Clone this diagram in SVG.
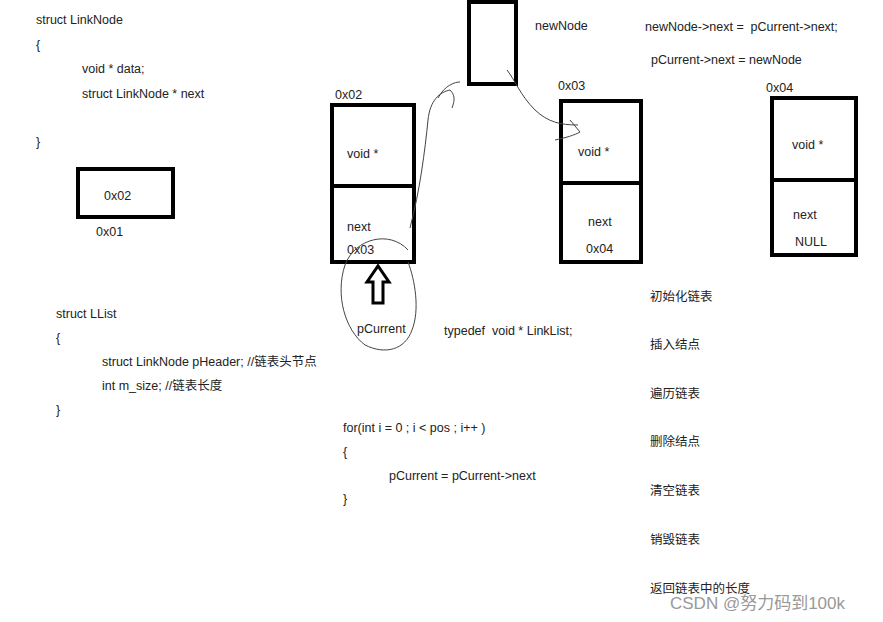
<svg xmlns="http://www.w3.org/2000/svg" width="883" height="622" viewBox="0 0 883 622">
<style>
text{font-family:"Liberation Sans","Noto Sans CJK SC",sans-serif;font-size:12.5px;fill:#222;white-space:pre}
.b{fill:none;stroke:#000;stroke-width:4}
.h{fill:none;stroke:#444;stroke-width:1}
</style>
<rect width="883" height="622" fill="#fff"/>
<g id="code1">
<text x="36" y="24">struct LinkNode</text><text x="36" y="49">{</text>
<text x="82" y="73">void * data;</text><text x="82" y="98">struct LinkNode * next</text>
<text x="36" y="146">}</text></g>
<g id="head"><rect class="b" x="78" y="169" width="95" height="48"/><text x="104" y="200">0x02</text><text x="96" y="236">0x01</text></g>
<g id="code2"><text x="56" y="318">struct LList</text><text x="56" y="342">{</text>
<text x="102" y="366">struct LinkNode pHeader; //链表头节点</text><text x="102" y="390">int m_size; //链表长度</text><text x="56" y="414">}</text></g>
<g id="n02"><text x="335" y="99">0x02</text><rect class="b" x="332" y="105" width="82" height="157"/><line class="b" x1="332" y1="186" x2="414" y2="186"/>
<text x="347" y="158">void *</text><text x="347" y="231">next</text><text x="347" y="254">0x03</text></g>
<g id="newNode"><rect class="b" x="469" y="2" width="47" height="82"/><text x="535" y="30">newNode</text></g>
<g id="n03"><text x="558" y="90">0x03</text><rect class="b" x="561" y="101" width="80" height="161"/><line class="b" x1="561" y1="183" x2="641" y2="183"/>
<text x="578" y="156">void *</text><text x="588" y="226">next</text><text x="586" y="253">0x04</text></g>
<g id="n04"><text x="766" y="92">0x04</text><rect class="b" x="772" y="98" width="84" height="157"/><line class="b" x1="772" y1="180" x2="856" y2="180"/>
<text x="792" y="149">void *</text><text x="793" y="219">next</text><text x="795" y="246">NULL</text></g>
<g id="pCurrent"><path d="M373,303 V282 H367 L378,266 L389,282 H383 V303 Z" fill="#fff" stroke="#000" stroke-width="3"/>
<text x="357" y="333">pCurrent</text></g>
<g id="texts"><text x="645" y="31">newNode-&gt;next =  pCurrent-&gt;next;</text><text x="651" y="64">pCurrent-&gt;next = newNode</text>
<text x="444" y="335">typedef  void * LinkList;</text>
<text x="343" y="432">for(int i = 0 ; i &lt; pos ; i++ )</text><text x="343" y="456">{</text>
<text x="389" y="480">pCurrent = pCurrent-&gt;next</text><text x="343" y="503">}</text>
<g style="font-size:11px"><text x="650" y="301">初始化链表</text><text x="650" y="349">插入结点</text><text x="650" y="398">遍历链表</text>
<text x="650" y="446">删除结点</text><text x="650" y="495">清空链表</text><text x="650" y="544">销毁链表</text><text x="650" y="593">返回链表中的长度</text></g>
<text x="670" y="609" style="font-size:17px;fill:#999">CSDN @努力码到100k</text></g>
<g id="connectors">
<path class="h" d="M410,228 C420,190 425,150 428,120 C430,100 440,92 450,90 C455,95 455,100 452,108 M438,98 C445,85 455,82 460,82"/>
<path class="h" d="M507,70 C515,80 520,95 535,110 C548,122 560,125 578,125 M555,140 C565,138 575,135 580,132 L570,120"/>
<path class="h" d="M408,250 C390,230 355,238 345,265 C335,295 345,330 365,345 C385,355 405,350 412,330 C420,310 415,280 408,262"/>
</g>
</svg>
